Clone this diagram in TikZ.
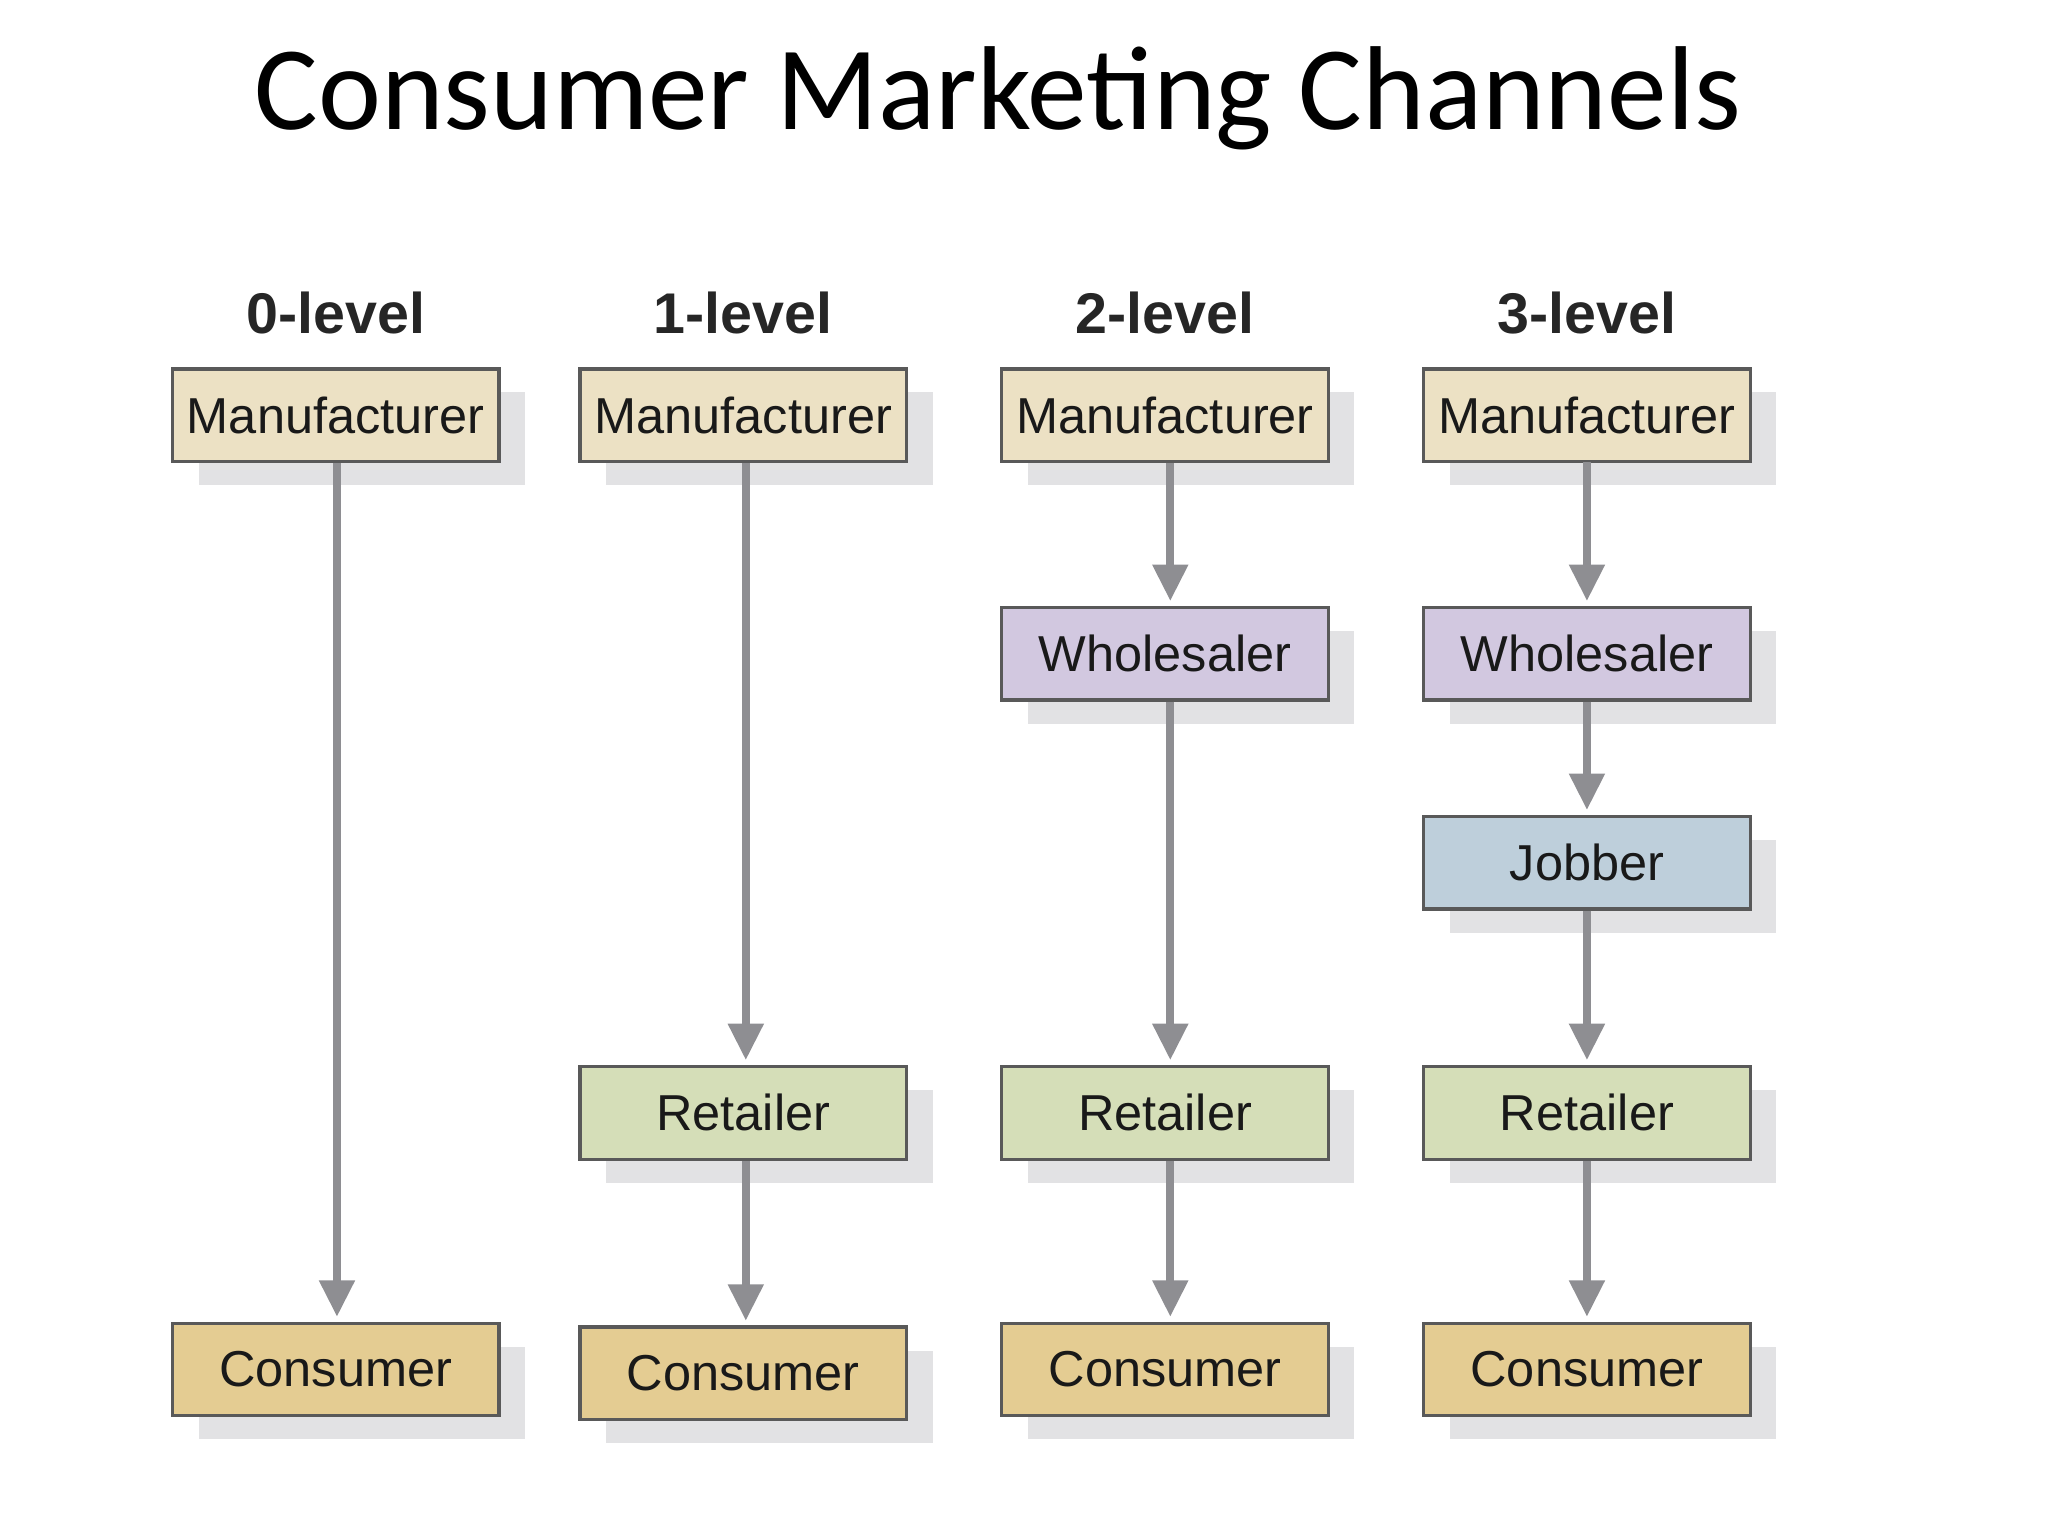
\documentclass[tikz,border=0pt]{standalone}
\usepackage{fontspec}
\setmainfont{Liberation Sans}
\newfontfamily\titlefont{Carlito}
\usetikzlibrary{arrows.meta}
\definecolor{manuf}{RGB}{236,225,196}
\definecolor{whole}{RGB}{210,200,224}
\definecolor{jobb}{RGB}{190,207,219}
\definecolor{retl}{RGB}{213,222,184}
\definecolor{cons}{RGB}{228,204,146}
\definecolor{shad}{RGB}{226,226,228}
\definecolor{arr}{RGB}{142,142,146}
\tikzset{
 chbox/.style={draw=black!65,line width=0.7pt,minimum width=2.5cm,minimum height=0.71cm,inner sep=0pt,font=\fontsize{11}{13}\selectfont,text=black!90},
 shadowed/.style={preaction={fill=shad,draw=none,transform canvas={shift={(0.2cm,-0.18cm)}}}},
 flow/.style={draw=arr,line width=1.8pt,-{Triangle[length=0.28cm,width=0.26cm]},shorten >=1pt},
 hdr/.style={font=\bfseries\fontsize{12.5}{14}\selectfont,text=black!85}
}
\begin{document}
\begin{tikzpicture}
\useasboundingbox (0,0) rectangle (15.68,-11.76);
\node[font=\titlefont\fontsize{26}{30}\selectfont] (title) at (7.64,-0.75) {Consumer Marketing Channels};
\foreach \x/\l/\n in {2.57/0-level/h0,5.69/1-level/h1,8.92/2-level/h2,12.15/3-level/h3}
  \node[hdr] (\n) at (\x,-2.4) {\l};
% column 0
\node[chbox,shadowed,fill=manuf] (m0) at (2.57,-3.18) {Manufacturer};
\node[chbox,shadowed,fill=cons] (c0) at (2.57,-10.485) {Consumer};
% column 1
\node[chbox,shadowed,fill=manuf] (m1) at (5.69,-3.18) {Manufacturer};
\node[chbox,shadowed,fill=retl] (r1) at (5.69,-8.52) {Retailer};
\node[chbox,shadowed,fill=cons] (c1) at (5.69,-10.515) {Consumer};
% column 2
\node[chbox,shadowed,fill=manuf] (m2) at (8.92,-3.18) {Manufacturer};
\node[chbox,shadowed,fill=whole] (w2) at (8.92,-5.005) {Wholesaler};
\node[chbox,shadowed,fill=retl] (r2) at (8.92,-8.52) {Retailer};
\node[chbox,shadowed,fill=cons] (c2) at (8.92,-10.485) {Consumer};
% column 3
\node[chbox,shadowed,fill=manuf] (m3) at (12.15,-3.18) {Manufacturer};
\node[chbox,shadowed,fill=whole] (w3) at (12.15,-5.005) {Wholesaler};
\node[chbox,shadowed,fill=jobb] (j3) at (12.15,-6.605) {Jobber};
\node[chbox,shadowed,fill=retl] (r3) at (12.15,-8.52) {Retailer};
\node[chbox,shadowed,fill=cons] (c3) at (12.15,-10.485) {Consumer};
% arrows
\draw[flow] (m0.south) ++(0.01,0) coordinate (a0) -- (a0 |- c0.north);
\draw[flow] (m1.south) ++(0.02,0) coordinate (a1) -- (a1 |- r1.north);
\draw[flow] (r1.south) ++(0.02,0) coordinate (b1) -- (b1 |- c1.north);
\draw[flow] (m2.south) ++(0.04,0) coordinate (a2) -- (a2 |- w2.north);
\draw[flow] (w2.south) ++(0.04,0) coordinate (b2) -- (b2 |- r2.north);
\draw[flow] (r2.south) ++(0.04,0) coordinate (d2) -- (d2 |- c2.north);
\draw[flow] (m3) ++(0,-0.355) coordinate (a3) -- (a3 |- w3.north);
\draw[flow] (w3.south) -- (j3.north);
\draw[flow] (j3.south) -- (r3.north);
\draw[flow] (r3.south) -- (c3.north);
\end{tikzpicture}
\end{document}
